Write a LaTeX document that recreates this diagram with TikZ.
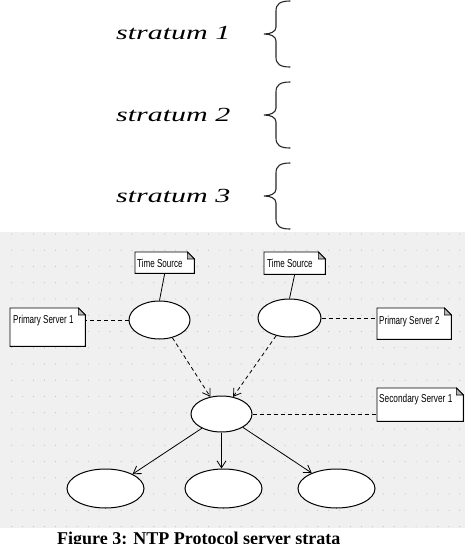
\documentclass[tikz,border=0pt]{standalone}
\usepackage{fontspec}
\setmainfont{Liberation Serif}
\newfontfamily\notefont{Liberation Sans}
\usetikzlibrary{arrows.meta,calc,shapes.geometric}
\definecolor{panelbg}{HTML}{F0F0F0}
\definecolor{dotc}{HTML}{C4C4C4}
\definecolor{foldc}{HTML}{B8B8B8}
\newcommand{\drawnote}[1]{%
  \filldraw[fill=white, draw=black, line width=0.9pt] (#1.north west) -- ($(#1.north east)+(-7,0)$) -- ($(#1.north east)+(0,7)$) -- (#1.south east) -- (#1.south west) -- cycle;
  \filldraw[fill=foldc, draw=black, line width=0.6pt] ($(#1.north east)+(-7,0)$) -- ($(#1.north east)+(-7,7)$) -- ($(#1.north east)+(0,7)$) -- cycle;
}
\newcommand{\sbrace}[2]{%
  \draw[bracepath] (290,#1) .. controls (280,#1) and (276,{#1+3}) .. (276,{#1+10})
    -- (276,{(#1+#2)/2-7}) .. controls (276,{(#1+#2)/2-2}) and (270,{(#1+#2)/2}) .. (264,{(#1+#2)/2})
    .. controls (270,{(#1+#2)/2}) and (276,{(#1+#2)/2+2}) .. (276,{(#1+#2)/2+7})
    -- (276,{#2-10}) .. controls (276,{#2-3}) and (280,#2) .. (290,#2);}
\tikzset{
  ell/.style={ellipse, draw=black, line width=1pt, fill=white, inner sep=0pt},
  notebox/.style={rectangle, draw=none, inner sep=0pt, anchor=north west},
  notetext/.style={font=\notefont\fontsize{11.5}{12}\selectfont, inner sep=0pt, anchor=west},
  solidarrow/.style={line width=0.8pt, -{Straight Barb[length=7pt,width=9pt]}},
  dasharrow/.style={solidarrow, dash pattern=on 4pt off 3pt},
  dashline/.style={line width=0.8pt, dash pattern=on 4pt off 3pt},
  stratum/.style={font=\itshape\fontsize{20}{24}\selectfont, inner sep=0pt, anchor=base west},
  bracepath/.style={line width=1.1pt, line cap=round, draw=black!85},
}
\begin{document}
\begin{tikzpicture}[x=1pt, y=-1pt]
\useasboundingbox (0,0) rectangle (474,544);
% upper part: strata
\node[stratum] (s1) at (116,39.5) {\scalebox{1.5}[1]{stratum 1}};
\node[stratum] (s2) at (116,121) {\scalebox{1.5}[1]{stratum 2}};
\node[stratum] (s3) at (116,202) {\scalebox{1.5}[1]{stratum 3}};
\sbrace{1}{67}
\sbrace{82}{148}
\sbrace{163}{229}
% panel
\fill[panelbg] (0,232) rectangle (465,528);
\foreach \i in {0,...,41} \foreach \j in {0,...,18}
  \fill[dotc] ({11.7+\i*10.93},{234+\j*16.25}) circle (0.6);
% notes
\node[notebox, minimum width=59pt, minimum height=21pt] (ts1) at (135,252) {};
\node[notebox, minimum width=61pt, minimum height=22pt] (ts2) at (264,252) {};
\node[notebox, minimum width=75pt, minimum height=38pt] (ps1) at (10,308) {};
\node[notebox, minimum width=74pt, minimum height=31pt] (ps2) at (377,308) {};
\node[notebox, minimum width=86pt, minimum height=33pt] (ss1) at (377,388) {};
\drawnote{ts1}\drawnote{ts2}\drawnote{ps1}\drawnote{ps2}\drawnote{ss1}
\node[notetext] (ts1t) at (137,263) {\scalebox{0.7}[1]{Time Source}};
\node[notetext] (ts2t) at (267,263) {\scalebox{0.7}[1]{Time Source}};
\node[notetext] (ps1t) at (13,320.5) {\scalebox{0.7}[1]{Primary Server 1}};
\node[notetext] (ps2t) at (379,321.5) {\scalebox{0.7}[1]{Primary Server 2}};
\node[notetext] (ss1t) at (379,400) {\scalebox{0.72}[1]{Secondary Server 1}};
% ellipses
\node[ell, minimum width=61pt, minimum height=38pt] (A) at (159.5,320) {};
\node[ell, minimum width=63pt, minimum height=38pt] (B) at (289.5,318) {};
\node[ell, minimum width=61pt, minimum height=36pt] (C) at (221.5,414) {};
\node[ell, minimum width=77pt, minimum height=39pt] (D) at (105.5,488.5) {};
\node[ell, minimum width=77pt, minimum height=39pt] (E) at (223.5,488.5) {};
\node[ell, minimum width=77pt, minimum height=39pt] (F) at (336.5,488.5) {};
% connectors
\draw[line width=0.8pt] (ts1.south) -- (A.north);
\draw[line width=0.8pt] (ts2.south) -- (B.north);
\draw[dashline] (A.west) -- (A.west -| ps1.east);
\draw[dashline] (B.east) -- (B.east -| ps2.west);
\draw[dashline] (C.east) -- (C.east -| ss1.west);
\draw[dasharrow] (A.-54) -- (C.123);
\draw[dasharrow] (B.233) -- (C.56);
\draw[solidarrow] (C.216) -- (D.28);
\draw[solidarrow] (C.south) -- (C.south |- E.north);
\draw[solidarrow] (C.-32) -- (F.148);
% caption
\node[font=\bfseries\fontsize{18}{20}\selectfont, anchor=base west, inner sep=0pt] (cap) at (57,544) {Figure 3: NTP Protocol server strata};
\end{tikzpicture}
\end{document}
